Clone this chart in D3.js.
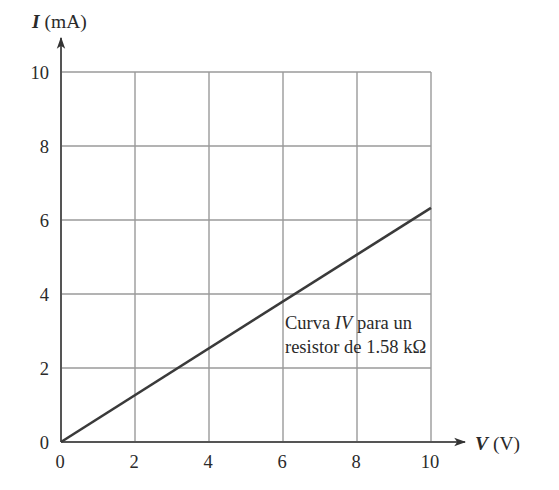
<script src="https://d3js.org/d3.v7.min.js"></script>
<body style="margin:0;background:#fff">
</body>
<script>
// data
var xTicks = [0, 2, 4, 6, 8, 10];
var yTicks = [0, 2, 4, 6, 8, 10];
var lineV = [0, 10];          // voltage (V)
var lineI = [0, 6.33];        // current (mA), 10 V / 1.58 kOhm
var noteLines = ["Curva |IV| para un", "resistor de 1.58 kΩ"];

const W = 559, H = 490;
const svg = d3.select("body").append("svg")
  .attr("width", W).attr("height", H)
  .style("font-family", "'Liberation Serif', 'Times New Roman', serif");

var x = d3.scaleLinear().domain([0, 10]).range([61, 431]);
var y = d3.scaleLinear().domain([0, 10]).range([442, 72]);

// grid
svg.append("g").selectAll("line").data(xTicks.slice(1)).enter().append("line")
  .attr("x1", d => x(d)).attr("x2", d => x(d))
  .attr("y1", y(0)).attr("y2", y(10))
  .attr("stroke", "#9a9a9a").attr("stroke-width", 1.4);
svg.append("g").selectAll("line").data(yTicks.slice(1)).enter().append("line")
  .attr("x1", x(0)).attr("x2", x(10))
  .attr("y1", d => y(d)).attr("y2", d => y(d))
  .attr("stroke", "#9a9a9a").attr("stroke-width", 1.4);

// axes with arrows
svg.append("defs").append("marker")
  .attr("id", "arr").attr("viewBox", "0 0 10 10")
  .attr("refX", 9).attr("refY", 5)
  .attr("markerWidth", 12).attr("markerHeight", 12)
  .attr("markerUnits", "userSpaceOnUse")
  .attr("orient", "auto")
  .append("path").attr("d", "M0,1.5 L10,5 L0,8.5 L2.5,5 Z").attr("fill", "#333");

svg.append("line")
  .attr("x1", x(0)).attr("x2", 465)
  .attr("y1", y(0)).attr("y2", y(0))
  .attr("stroke", "#555").attr("stroke-width", 2)
  .attr("marker-end", "url(#arr)");
svg.append("line")
  .attr("x1", x(0)).attr("x2", x(0))
  .attr("y1", y(0)).attr("y2", 38)
  .attr("stroke", "#555").attr("stroke-width", 2)
  .attr("marker-end", "url(#arr)");

// IV line
var pts = lineV.map((v, i) => [v, lineI[i]]);
svg.append("path")
  .attr("d", d3.line().x(d => x(d[0])).y(d => y(d[1]))(pts))
  .attr("stroke", "#3a3a3a").attr("stroke-width", 2.6).attr("fill", "none");

// tick labels
svg.append("g").selectAll("text").data(xTicks).enter().append("text")
  .attr("x", d => x(d) - 1).attr("y", 468)
  .attr("text-anchor", "middle").attr("font-size", 18.5).attr("fill", "#2a2a2a")
  .text(d => d);
svg.append("g").selectAll("text").data(yTicks).enter().append("text")
  .attr("x", 49).attr("y", d => y(d) + 7)
  .attr("text-anchor", "end").attr("font-size", 18.5).attr("fill", "#2a2a2a")
  .text(d => d);

// axis titles
var ty = svg.append("text").attr("x", 32).attr("y", 28)
  .attr("font-size", 19.5).attr("fill", "#2a2a2a");
ty.append("tspan").attr("font-style", "italic").attr("font-weight", "bold").text("I");
ty.append("tspan").text(" (mA)");
var tx = svg.append("text").attr("x", 475).attr("y", 450)
  .attr("font-size", 19.5).attr("fill", "#2a2a2a");
tx.append("tspan").attr("font-style", "italic").attr("font-weight", "bold").text("V");
tx.append("tspan").text(" (V)");

// annotation
noteLines.forEach(function(s, i) {
  var t = svg.append("text").attr("x", 285).attr("y", 329 + i * 24)
    .attr("font-size", 18.5).attr("fill", "#2a2a2a");
  s.split("|").forEach(function(part, j) {
    t.append("tspan").attr("font-style", j % 2 ? "italic" : "normal").text(part);
  });
});
</script>
